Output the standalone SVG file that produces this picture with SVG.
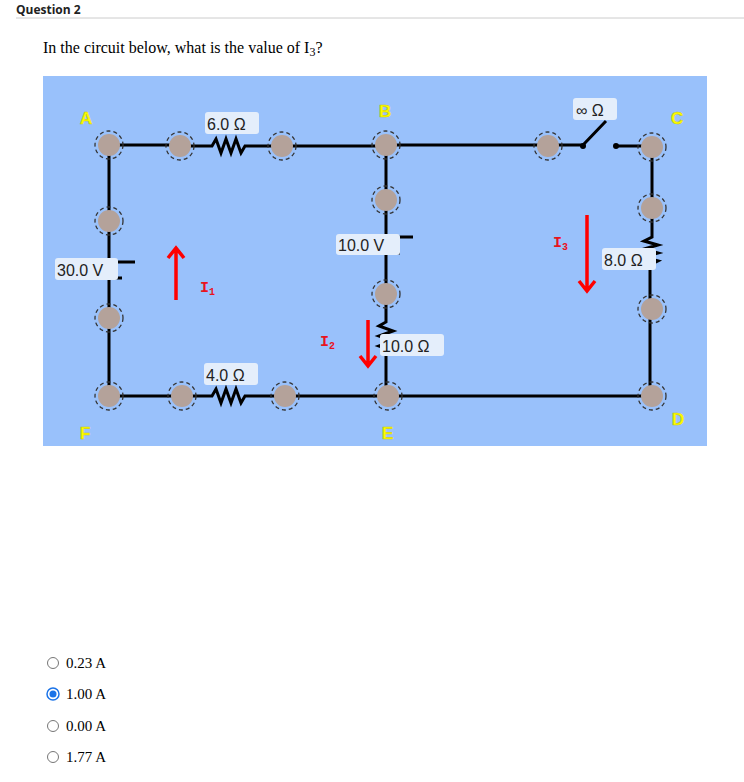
<svg xmlns="http://www.w3.org/2000/svg" width="744" height="782" viewBox="0 0 744 782">
<style>
.w{stroke:#000;stroke-width:3;fill:none}
.nd circle.o{fill:none;stroke:#333;stroke-width:1.3;stroke-dasharray:4 3}
.nd circle.i{fill:#b4a29a}
.lbl{fill:#e4eefb}
.t{font-family:"Liberation Sans",Arial,sans-serif;font-size:16px;fill:#222}
.L{font-family:"Liberation Sans",Arial,sans-serif;font-weight:bold;font-size:17px;fill:#ffff00;stroke:#c8c800;stroke-width:0.5}
.I{font-family:"Liberation Mono",monospace;font-weight:bold;font-size:15px;fill:#e8141e}
.ser{font-family:"Liberation Serif","Times New Roman",serif;font-size:16px;fill:#000}
.arr{stroke:#f00;stroke-width:3.5;fill:none}
</style>
<rect width="744" height="782" fill="#fff"/>
<text x="16" y="14" font-family="Open Sans,sans-serif" font-weight="bold" font-size="12" fill="#222">Question 2</text>
<line x1="16" y1="18" x2="744" y2="18" stroke="#ccc"/>
<text x="43" y="53" class="ser">In the circuit below, what is the value of I<tspan font-size="12" dy="3">3</tspan><tspan dy="-3">?</tspan></text>
<rect x="43" y="76" width="664" height="370" fill="#99c1fb"/>
<g id="connectors">
<path class="w" d="M109 145 H180 M180 146 H212 l4 -7 l5 14 l5 -14 l5 14 l5 -14 l5 14 l4 -7 H282 M282 146 H386 M386 145 H548 H583 L606 121"/>
<circle cx="583" cy="146" r="3"/><circle cx="616" cy="146" r="3"/>
<path class="w" d="M616 146 H652 V208 V237 l-8 4 l14 4 l-14 4 l14 4 l-14 4 l14 4 l-8 4 V309 V396"/>
<path class="w" d="M109 145 V262 M109 278 V396 H182 H212 l4 -7 l5 14 l5 -14 l5 14 l5 -14 l5 14 l4 -7 H285 H388 H652"/>
<path class="w" d="M386 145 V237 M386 253 V322 l-7 4 l14 5 l-14 5 l14 5 l-14 5 l14 5 l-7 4 V396"/>
<line x1="83" y1="262" x2="135" y2="262" stroke="#000" stroke-width="3"/>
<line x1="97" y1="278" x2="122" y2="278" stroke="#000" stroke-width="3"/>
<line x1="363" y1="237" x2="413" y2="237" stroke="#000" stroke-width="3"/>
<line x1="376" y1="253" x2="400" y2="253" stroke="#000" stroke-width="3"/>
</g>
<g class="nd">
<g id="nA"><circle class="o" cx="109" cy="145" r="14"/><circle class="i" cx="109" cy="145" r="11"/></g>
<g id="n1"><circle class="o" cx="180" cy="146" r="14"/><circle class="i" cx="180" cy="146" r="11"/></g>
<g id="n2"><circle class="o" cx="282" cy="146" r="14"/><circle class="i" cx="282" cy="146" r="11"/></g>
<g id="nB"><circle class="o" cx="386" cy="145" r="14"/><circle class="i" cx="386" cy="145" r="11"/></g>
<g id="n3"><circle class="o" cx="548" cy="146" r="14"/><circle class="i" cx="548" cy="146" r="11"/></g>
<g id="nC"><circle class="o" cx="652" cy="147" r="14"/><circle class="i" cx="652" cy="147" r="11"/></g>
<g id="n4"><circle class="o" cx="109" cy="221" r="14"/><circle class="i" cx="109" cy="221" r="11"/></g>
<g id="n5"><circle class="o" cx="109" cy="318" r="14"/><circle class="i" cx="109" cy="318" r="11"/></g>
<g id="nF"><circle class="o" cx="109" cy="396" r="14"/><circle class="i" cx="109" cy="396" r="11"/></g>
<g id="n6"><circle class="o" cx="182" cy="396" r="14"/><circle class="i" cx="182" cy="396" r="11"/></g>
<g id="n7"><circle class="o" cx="285" cy="396" r="14"/><circle class="i" cx="285" cy="396" r="11"/></g>
<g id="nE"><circle class="o" cx="388" cy="396" r="14"/><circle class="i" cx="388" cy="396" r="11"/></g>
<g id="nD"><circle class="o" cx="652" cy="396" r="14"/><circle class="i" cx="652" cy="396" r="11"/></g>
<g id="n8"><circle class="o" cx="386" cy="200" r="14"/><circle class="i" cx="386" cy="200" r="11"/></g>
<g id="n9"><circle class="o" cx="386" cy="294" r="14"/><circle class="i" cx="386" cy="294" r="11"/></g>
<g id="n10"><circle class="o" cx="652" cy="208" r="14"/><circle class="i" cx="652" cy="208" r="11"/></g>
<g id="n11"><circle class="o" cx="652" cy="309" r="14"/><circle class="i" cx="652" cy="309" r="11"/></g>
</g>
<g id="labels">
<rect class="lbl" x="205" y="112" width="54" height="22" rx="3"/><text class="t" x="207" y="130">6.0 Ω</text>
<rect class="lbl" x="573" y="98" width="44" height="22" rx="3"/><text class="t" x="576" y="116">∞ Ω</text>
<rect class="lbl" x="55" y="258" width="63" height="22" rx="3"/><text class="t" x="57" y="276">30.0 V</text>
<rect class="lbl" x="336" y="234" width="64" height="21" rx="3"/><text class="t" x="338" y="251">10.0 V</text>
<rect class="lbl" x="380" y="334" width="64" height="22" rx="3"/><text class="t" x="382" y="352">10.0 Ω</text>
<rect class="lbl" x="204" y="363" width="54" height="22" rx="3"/><text class="t" x="206" y="381">4.0 Ω</text>
<rect class="lbl" x="602" y="248" width="54" height="22" rx="3"/><text class="t" x="604" y="266">8.0 Ω</text>
<text class="L" x="80" y="124">A</text><text class="L" x="379" y="117">B</text><text class="L" x="671" y="124">C</text>
<text class="L" x="80" y="439">F</text><text class="L" x="382" y="439">E</text><text class="L" x="672" y="425">D</text>
</g>
<g id="currents">
<path class="arr" d="M176 300 V248 M168 258 L176 248 L184 258"/>
<path class="arr" d="M368 320 V365 M360 356 L368 366 L376 356"/>
<path class="arr" d="M587 215 V290 M579 281 L587 291 L595 281"/>
<text class="I" x="200" y="292">I<tspan font-size="10" dy="3">1</tspan></text>
<text class="I" x="320" y="346">I<tspan font-size="10" dy="3">2</tspan></text>
<text class="I" x="553" y="247">I<tspan font-size="10" dy="3">3</tspan></text>
</g>
<g id="options" font-family="Liberation Serif,serif" font-size="15">
<circle cx="53" cy="663" r="5.5" fill="#fff" stroke="#767676"/><text x="66" y="668">0.23 A</text>
<circle cx="53" cy="694" r="6" fill="#fff" stroke="#1a73e8" stroke-width="1.5"/><circle cx="53" cy="694" r="3.5" fill="#1a73e8"/><text x="66" y="699">1.00 A</text>
<circle cx="53" cy="726" r="5.5" fill="#fff" stroke="#767676"/><text x="66" y="731">0.00 A</text>
<circle cx="53" cy="757" r="5.5" fill="#fff" stroke="#767676"/><text x="66" y="762">1.77 A</text>
</g>
</svg>
